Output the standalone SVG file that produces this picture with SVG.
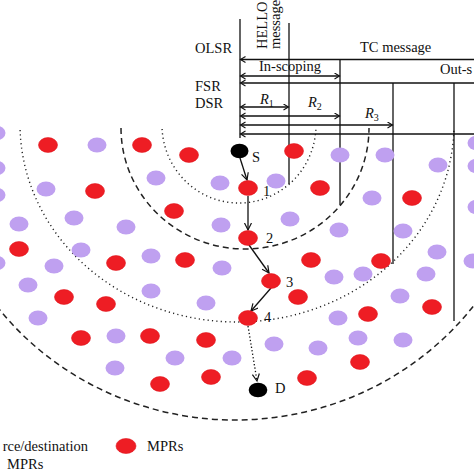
<svg xmlns="http://www.w3.org/2000/svg" width="474" height="474" viewBox="0 0 474 474">
<style>
.t{font-family:"Liberation Serif","Times New Roman",serif;font-size:14.5px;fill:#111}
.i{font-style:italic}
.r{fill:#EE1D24;stroke:#E0141C;stroke-width:0.6}
.p{fill:#BFA0F0}
.k{fill:#000}
.ln{stroke:#111;stroke-width:1.3;fill:none}
.dot{stroke:#222;stroke-width:1.4;fill:none;stroke-dasharray:1.2 3.2}
.dash{stroke:#222;stroke-width:1.5;fill:none;stroke-dasharray:6 4}
</style>
<defs>
<marker id="sa" markerWidth="8" markerHeight="8" refX="5.5" refY="3.5" orient="auto-start-reverse" markerUnits="userSpaceOnUse">
<path d="M0.5,0.5 L5.5,3.5 L0.5,6.5" fill="none" stroke="#111" stroke-width="1.1"/>
</marker>
<marker id="na" markerWidth="10" markerHeight="10" refX="7.5" refY="4" orient="auto" markerUnits="userSpaceOnUse">
<path d="M0.5,0.5 L7.5,4 L0.5,7.5" fill="none" stroke="#111" stroke-width="1.2"/>
</marker>
</defs>
<g id="arcs">
<path class="dot" d="M162.1,129 A77,78 0 0 0 315.9,129"/>
<path class="dash" d="M121,128 A124,121 0 0 0 369,128"/>
<path class="dot" d="M20.1,130 A217,198 0 0 0 453.9,130"/>
<path class="dash" d="M-65,130 A300,290 0 0 0 535,130"/>
</g>
<g id="scale">
<line class="ln" x1="240" y1="19" x2="240" y2="138"/>
<line class="ln" x1="289" y1="23" x2="289" y2="184"/>
<line class="ln" x1="340" y1="60" x2="340" y2="205"/>
<line class="ln" x1="393" y1="83" x2="393" y2="264"/>
<line class="ln" x1="454" y1="83" x2="454" y2="321"/>
<line class="ln" x1="240.5" y1="59.5" x2="474" y2="59.5" marker-start="url(#sa)"/>
<line class="ln" x1="240.5" y1="76" x2="339.5" y2="76" marker-start="url(#sa)" marker-end="url(#sa)"/>
<line class="ln" x1="240.5" y1="83" x2="474" y2="83" marker-start="url(#sa)"/>
<line class="ln" x1="240.5" y1="107" x2="288.5" y2="107" marker-start="url(#sa)" marker-end="url(#sa)"/>
<line class="ln" x1="240.5" y1="116" x2="339.5" y2="116" marker-start="url(#sa)" marker-end="url(#sa)"/>
<line class="ln" x1="240.5" y1="125" x2="392.5" y2="125" marker-start="url(#sa)" marker-end="url(#sa)"/>
<line class="ln" x1="240.5" y1="134" x2="474" y2="134" marker-start="url(#sa)"/>
<text class="t" transform="translate(267,49) rotate(-90)" font-size="14">HELLO</text>
<text class="t" transform="translate(280,49) rotate(-90)" font-size="12.5">message</text>
<text class="t" x="195" y="53">OLSR</text>
<text class="t" x="195" y="91">FSR</text>
<text class="t" x="195" y="108">DSR</text>
<text class="t" x="360" y="52">TC message</text>
<text class="t" x="259" y="71">In-scoping</text>
<text class="t" x="440" y="74">Out-s</text>
<text class="t" x="260" y="104"><tspan class="i">R</tspan><tspan font-size="10" dy="3">1</tspan></text>
<text class="t" x="308" y="107"><tspan class="i">R</tspan><tspan font-size="10" dy="3">2</tspan></text>
<text class="t" x="365" y="118"><tspan class="i">R</tspan><tspan font-size="10" dy="3">3</tspan></text>
</g>
<g id="others">
<ellipse class="r" cx="48" cy="145" rx="9.5" ry="7.4"/>
<ellipse class="r" cx="142" cy="145" rx="9.5" ry="7.4"/>
<ellipse class="r" cx="95" cy="191" rx="9.5" ry="7.4"/>
<ellipse class="r" cx="19" cy="249" rx="9.5" ry="7.4"/>
<ellipse class="r" cx="116" cy="263" rx="9.5" ry="7.4"/>
<ellipse class="r" cx="189" cy="155" rx="9.5" ry="7.4"/>
<ellipse class="r" cx="294" cy="151" rx="9.5" ry="7.4"/>
<ellipse class="r" cx="320" cy="188" rx="9.5" ry="7.4"/>
<ellipse class="r" cx="174" cy="211" rx="9.5" ry="7.4"/>
<ellipse class="r" cx="185" cy="260" rx="9.5" ry="7.4"/>
<ellipse class="r" cx="311" cy="260" rx="9.5" ry="7.4"/>
<ellipse class="r" cx="412" cy="198" rx="9.5" ry="7.4"/>
<ellipse class="r" cx="381" cy="261" rx="9.5" ry="7.4"/>
<ellipse class="r" cx="298" cy="297" rx="9.5" ry="7.4"/>
<ellipse class="r" cx="64" cy="297" rx="9.5" ry="7.4"/>
<ellipse class="r" cx="106" cy="304" rx="9.5" ry="7.4"/>
<ellipse class="r" cx="81" cy="338" rx="9.5" ry="7.4"/>
<ellipse class="r" cx="150" cy="336" rx="9.5" ry="7.4"/>
<ellipse class="r" cx="206" cy="340" rx="9.5" ry="7.4"/>
<ellipse class="r" cx="211" cy="377" rx="9.5" ry="7.4"/>
<ellipse class="r" cx="160" cy="384" rx="9.5" ry="7.4"/>
<ellipse class="r" cx="307" cy="378" rx="9.5" ry="7.4"/>
<ellipse class="r" cx="368" cy="314" rx="9.5" ry="7.4"/>
<ellipse class="r" cx="432" cy="307" rx="9.5" ry="7.4"/>
<ellipse class="r" cx="360" cy="362" rx="9.5" ry="7.4"/>
<ellipse class="p" cx="-4" cy="133" rx="9.5" ry="7.4"/>
<ellipse class="p" cx="97" cy="145" rx="9.5" ry="7.4"/>
<ellipse class="p" cx="-4" cy="168" rx="9.5" ry="7.4"/>
<ellipse class="p" cx="156" cy="178" rx="9.5" ry="7.4"/>
<ellipse class="p" cx="46" cy="189" rx="9.5" ry="7.4"/>
<ellipse class="p" cx="-4" cy="195" rx="9.5" ry="7.4"/>
<ellipse class="p" cx="19" cy="224" rx="9.5" ry="7.4"/>
<ellipse class="p" cx="74" cy="218" rx="9.5" ry="7.4"/>
<ellipse class="p" cx="126" cy="227" rx="9.5" ry="7.4"/>
<ellipse class="p" cx="81" cy="250" rx="9.5" ry="7.4"/>
<ellipse class="p" cx="151" cy="256" rx="9.5" ry="7.4"/>
<ellipse class="p" cx="54" cy="266" rx="9.5" ry="7.4"/>
<ellipse class="p" cx="-4" cy="263" rx="9.5" ry="7.4"/>
<ellipse class="p" cx="220" cy="183" rx="9.5" ry="7.4"/>
<ellipse class="p" cx="276" cy="181" rx="9.5" ry="7.4"/>
<ellipse class="p" cx="221" cy="225" rx="9.5" ry="7.4"/>
<ellipse class="p" cx="290" cy="219" rx="9.5" ry="7.4"/>
<ellipse class="p" cx="222" cy="268" rx="9.5" ry="7.4"/>
<ellipse class="p" cx="340" cy="155" rx="9.5" ry="7.4"/>
<ellipse class="p" cx="385" cy="155" rx="9.5" ry="7.4"/>
<ellipse class="p" cx="438" cy="165" rx="9.5" ry="7.4"/>
<ellipse class="p" cx="477" cy="143" rx="9.5" ry="7.4"/>
<ellipse class="p" cx="477" cy="166" rx="9.5" ry="7.4"/>
<ellipse class="p" cx="372" cy="198" rx="9.5" ry="7.4"/>
<ellipse class="p" cx="477" cy="207" rx="9.5" ry="7.4"/>
<ellipse class="p" cx="339" cy="230" rx="9.5" ry="7.4"/>
<ellipse class="p" cx="403" cy="231" rx="9.5" ry="7.4"/>
<ellipse class="p" cx="437" cy="252" rx="9.5" ry="7.4"/>
<ellipse class="p" cx="473" cy="261" rx="9.5" ry="7.4"/>
<ellipse class="p" cx="334" cy="277" rx="9.5" ry="7.4"/>
<ellipse class="p" cx="363" cy="274" rx="9.5" ry="7.4"/>
<ellipse class="p" cx="426" cy="274" rx="9.5" ry="7.4"/>
<ellipse class="p" cx="400" cy="296" rx="9.5" ry="7.4"/>
<ellipse class="p" cx="28" cy="285" rx="9.5" ry="7.4"/>
<ellipse class="p" cx="151" cy="291" rx="9.5" ry="7.4"/>
<ellipse class="p" cx="206" cy="303" rx="9.5" ry="7.4"/>
<ellipse class="p" cx="38" cy="318" rx="9.5" ry="7.4"/>
<ellipse class="p" cx="116" cy="336" rx="9.5" ry="7.4"/>
<ellipse class="p" cx="115" cy="368" rx="9.5" ry="7.4"/>
<ellipse class="p" cx="175" cy="358" rx="9.5" ry="7.4"/>
<ellipse class="p" cx="232" cy="358" rx="9.5" ry="7.4"/>
<ellipse class="p" cx="274" cy="344" rx="9.5" ry="7.4"/>
<ellipse class="p" cx="318" cy="348" rx="9.5" ry="7.4"/>
<ellipse class="p" cx="338" cy="318" rx="9.5" ry="7.4"/>
<ellipse class="p" cx="358" cy="338" rx="9.5" ry="7.4"/>
<ellipse class="p" cx="403" cy="340" rx="9.5" ry="7.4"/>
</g>
<g id="connectors">
<line class="ln" x1="240" y1="158" x2="247" y2="180" marker-end="url(#na)"/>
<line class="ln" x1="248" y1="196" x2="248" y2="230" marker-end="url(#na)"/>
<line class="ln" x1="249" y1="245" x2="269" y2="273" marker-end="url(#na)"/>
<line class="ln" x1="271" y1="288" x2="251" y2="311" marker-end="url(#na)"/>
<line x1="248" y1="326" x2="257" y2="381" stroke="#111" stroke-width="1.3" stroke-dasharray="1.3 2.2" marker-end="url(#na)"/>
</g>
<g id="node-S"><ellipse class="k" cx="239.5" cy="151" rx="9" ry="7.3"/><text class="t" x="252" y="162">S</text></g>
<g id="node-1"><ellipse class="r" cx="248" cy="188" rx="9.5" ry="7.4"/><text class="t" x="263" y="196">1</text></g>
<g id="node-2"><ellipse class="r" cx="248" cy="238" rx="9.5" ry="7.4"/><text class="t" x="266" y="243">2</text></g>
<g id="node-3"><ellipse class="r" cx="271" cy="281" rx="9.5" ry="7.4"/><text class="t" x="286" y="287">3</text></g>
<g id="node-4"><ellipse class="r" cx="248" cy="318" rx="9.5" ry="7.4"/><text class="t" x="264" y="322">4</text></g>
<g id="node-D"><ellipse class="k" cx="258" cy="390" rx="9.3" ry="7.3"/><text class="t" x="275" y="393">D</text></g>
<g id="legend">
<text class="t" x="88" y="451" text-anchor="end">rce/destination</text>
<text class="t" x="7" y="469">MPRs</text>
<ellipse class="r" cx="126" cy="446" rx="10" ry="7.5"/>
<text class="t" x="147" y="451">MPRs</text>
</g>
</svg>
